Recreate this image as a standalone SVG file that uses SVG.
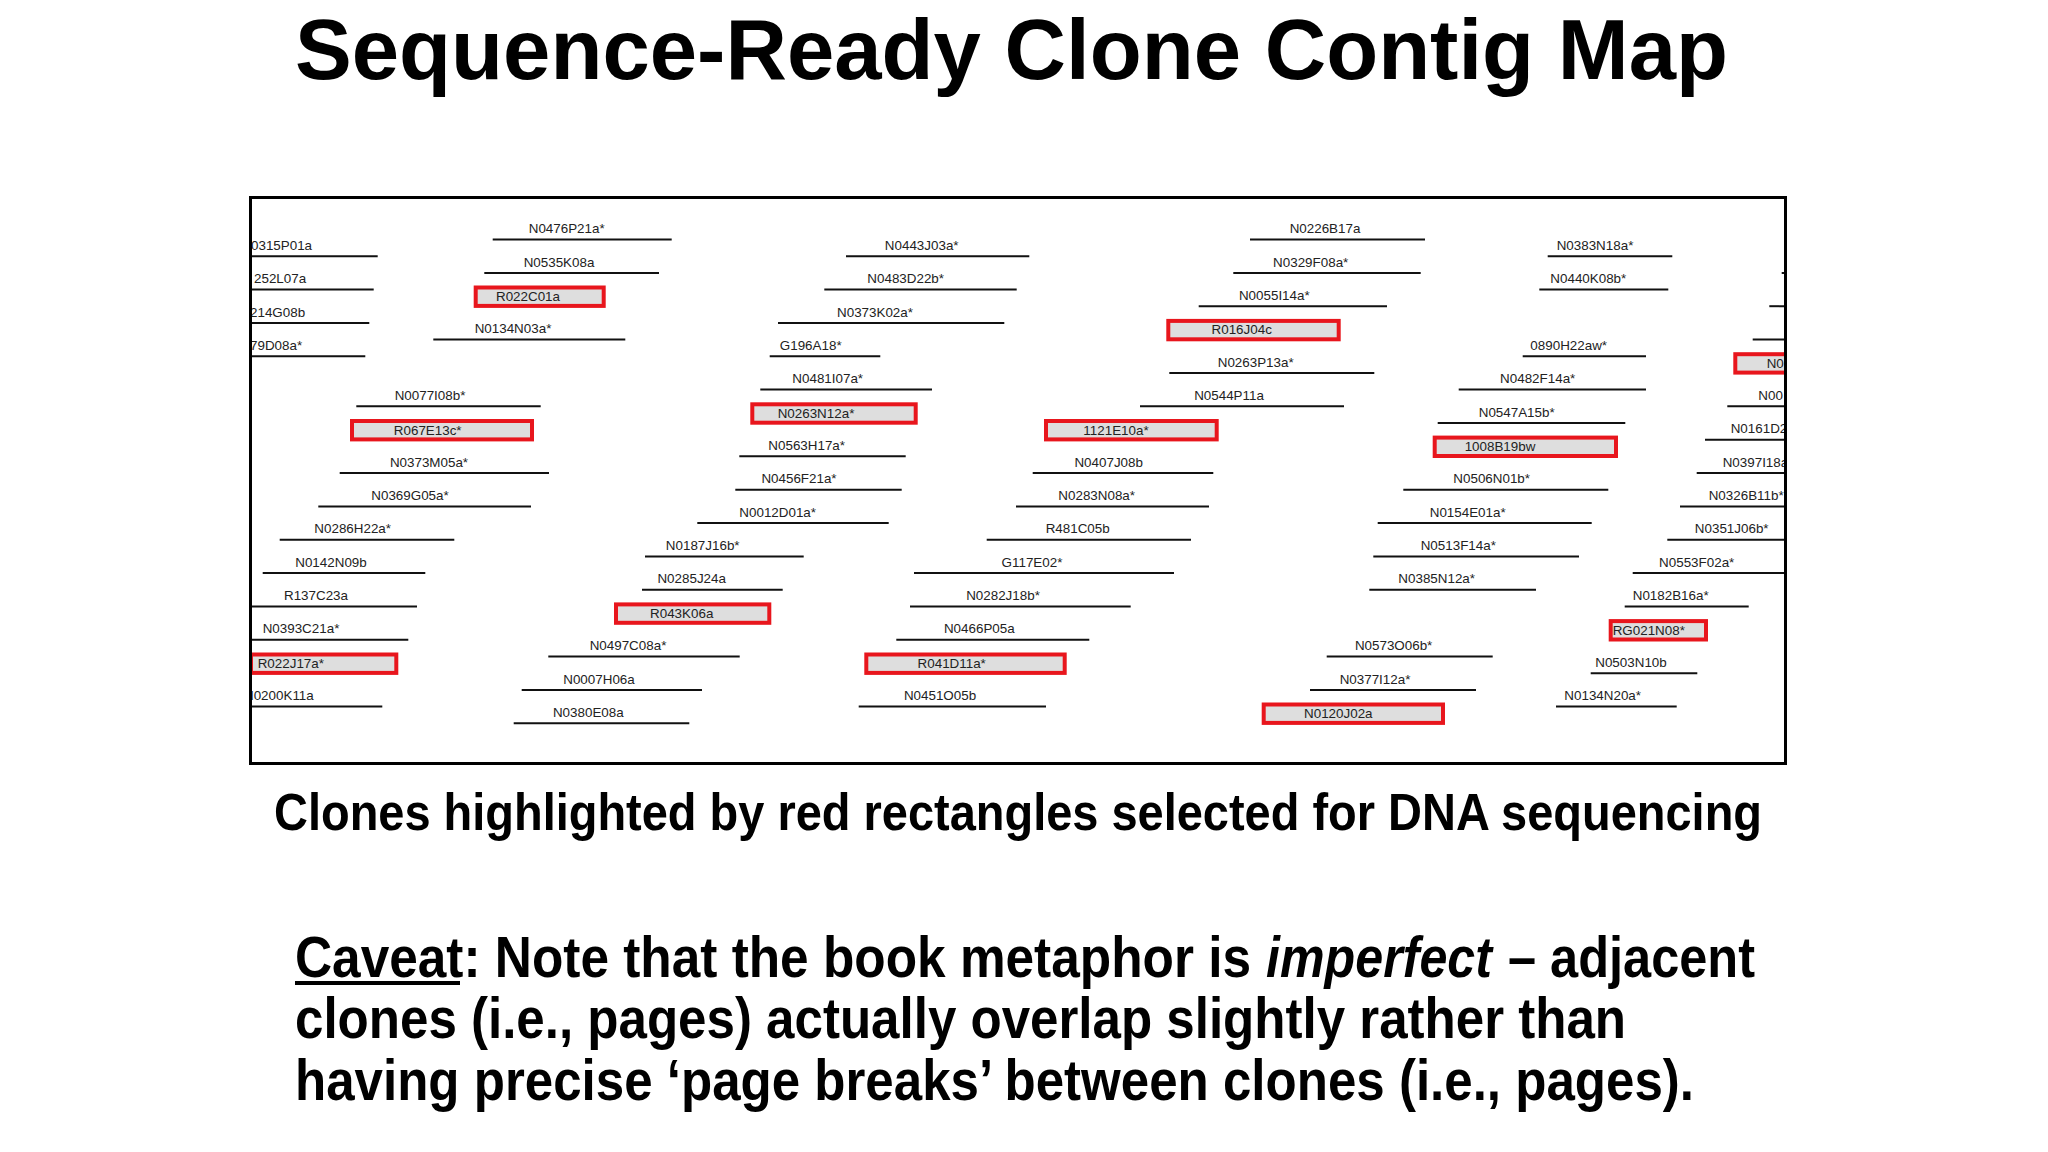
<svg xmlns="http://www.w3.org/2000/svg" width="2048" height="1152" viewBox="0 0 2048 1152">
<style>
.ln{stroke:#111;stroke-width:2}
.sel{fill:#dedede;stroke:#e8161d;stroke-width:4}
.lb{font-family:"Liberation Sans",Arial,sans-serif;font-size:13.4px;fill:#222;text-anchor:middle}
.st{text-anchor:start}
.big{font-family:"Liberation Sans",Arial,sans-serif;font-weight:bold;fill:#000}
</style>
<defs>
<clipPath id="mapclip"><rect x="250.5" y="197.5" width="1535" height="566"/></clipPath>
</defs>
<rect width="2048" height="1152" fill="#fff"/>
<g id="title"><text class="big" x="295" y="79" font-size="86" textLength="1433" lengthAdjust="spacingAndGlyphs">Sequence-Ready Clone Contig Map</text></g>

<g id="map" clip-path="url(#mapclip)">
<g id="c-0315P01a"><line class="ln" x1="249" y1="256.2" x2="377.7" y2="256.2"/><text class="lb st" x="251" y="249.8">0315P01a</text></g>
<g id="c-252L07a"><line class="ln" x1="249" y1="289.5" x2="373.7" y2="289.5"/><text class="lb st" x="254" y="283.1">252L07a</text></g>
<g id="c-214G08b"><line class="ln" x1="249" y1="322.9" x2="369.3" y2="322.9"/><text class="lb st" x="250" y="316.5">214G08b</text></g>
<g id="c-79D08a"><line class="ln" x1="249" y1="356.3" x2="365.3" y2="356.3"/><text class="lb st" x="250" y="349.9">79D08a*</text></g>

<g id="c-N0476P21a"><line class="ln" x1="492.7" y1="239.5" x2="671.7" y2="239.5"/><text class="lb" x="566.7" y="233.1">N0476P21a*</text></g>
<g id="c-N0535K08a"><line class="ln" x1="484.3" y1="272.9" x2="659" y2="272.9"/><text class="lb" x="559" y="266.5">N0535K08a</text></g>
<g id="c-R022C01a"><rect class="sel" x="475.7" y="287.5" width="128" height="18.4"/><text class="lb" x="528" y="301">R022C01a</text></g>
<g id="c-N0134N03a"><line class="ln" x1="433.3" y1="339.6" x2="625.3" y2="339.6"/><text class="lb" x="513" y="333.2">N0134N03a*</text></g>

<g id="c-N0077I08b"><line class="ln" x1="356.3" y1="406.3" x2="540.7" y2="406.3"/><text class="lb" x="430" y="399.9">N0077I08b*</text></g>
<g id="c-R067E13c"><rect class="sel" x="352" y="421" width="180" height="18.4"/><text class="lb" x="427.7" y="434.5">R067E13c*</text></g>
<g id="c-N0373M05a"><line class="ln" x1="339.7" y1="473" x2="549" y2="473"/><text class="lb" x="429" y="466.6">N0373M05a*</text></g>
<g id="c-N0369G05a"><line class="ln" x1="318.3" y1="506.4" x2="531" y2="506.4"/><text class="lb" x="410" y="500">N0369G05a*</text></g>
<g id="c-N0286H22a"><line class="ln" x1="279.7" y1="539.7" x2="454.3" y2="539.7"/><text class="lb" x="352.7" y="533.3">N0286H22a*</text></g>
<g id="c-N0142N09b"><line class="ln" x1="262.7" y1="573.1" x2="425.3" y2="573.1"/><text class="lb" x="331" y="566.7">N0142N09b</text></g>
<g id="c-R137C23a"><line class="ln" x1="249" y1="606.5" x2="417" y2="606.5"/><text class="lb" x="316" y="600.1">R137C23a</text></g>
<g id="c-N0393C21a"><line class="ln" x1="249" y1="639.8" x2="408.3" y2="639.8"/><text class="lb" x="301" y="633.4">N0393C21a*</text></g>
<g id="c-R022J17a"><rect class="sel" x="251" y="654.5" width="145.3" height="18.4"/><text class="lb st" x="257.7" y="668">R022J17a*</text></g>
<g id="c-N0200K11a"><line class="ln" x1="249" y1="706.5" x2="382.3" y2="706.5"/><text class="lb st" x="244" y="700.1">N0200K11a</text></g>

<g id="c-N0187J16b"><line class="ln" x1="645" y1="556.4" x2="803.7" y2="556.4"/><text class="lb" x="702.7" y="550">N0187J16b*</text></g>
<g id="c-N0285J24a"><line class="ln" x1="642" y1="589.8" x2="782.7" y2="589.8"/><text class="lb" x="691.7" y="583.4">N0285J24a</text></g>
<g id="c-R043K06a"><rect class="sel" x="616" y="604.4" width="153.3" height="18.4"/><text class="lb" x="681.7" y="617.9">R043K06a</text></g>
<g id="c-N0497C08a"><line class="ln" x1="548.3" y1="656.5" x2="739.7" y2="656.5"/><text class="lb" x="628" y="650.1">N0497C08a*</text></g>
<g id="c-N0007H06a"><line class="ln" x1="521.7" y1="689.9" x2="702" y2="689.9"/><text class="lb" x="599" y="683.5">N0007H06a</text></g>
<g id="c-N0380E08a"><line class="ln" x1="513.7" y1="723.2" x2="689.3" y2="723.2"/><text class="lb" x="588.3" y="716.8">N0380E08a</text></g>

<g id="c-N0443J03a"><line class="ln" x1="846" y1="256.2" x2="1029.3" y2="256.2"/><text class="lb" x="921.7" y="249.8">N0443J03a*</text></g>
<g id="c-N0483D22b"><line class="ln" x1="824.3" y1="289.5" x2="1016.7" y2="289.5"/><text class="lb" x="905.7" y="283.1">N0483D22b*</text></g>
<g id="c-N0373K02a"><line class="ln" x1="778" y1="322.9" x2="1004.3" y2="322.9"/><text class="lb" x="875" y="316.5">N0373K02a*</text></g>
<g id="c-G196A18"><line class="ln" x1="769.7" y1="356.3" x2="880.3" y2="356.3"/><text class="lb" x="810.7" y="349.9">G196A18*</text></g>
<g id="c-N0481I07a"><line class="ln" x1="760.3" y1="389.6" x2="932" y2="389.6"/><text class="lb" x="827.7" y="383.2">N0481I07a*</text></g>
<g id="c-N0263N12a"><rect class="sel" x="752.3" y="404.3" width="163.4" height="18.4"/><text class="lb" x="816" y="417.8">N0263N12a*</text></g>
<g id="c-N0563H17a"><line class="ln" x1="739.3" y1="456.3" x2="905.7" y2="456.3"/><text class="lb" x="806.7" y="449.9">N0563H17a*</text></g>
<g id="c-N0456F21a"><line class="ln" x1="735.3" y1="489.7" x2="901.7" y2="489.7"/><text class="lb" x="799" y="483.3">N0456F21a*</text></g>
<g id="c-N0012D01a"><line class="ln" x1="697.3" y1="523.1" x2="888.7" y2="523.1"/><text class="lb" x="777.7" y="516.7">N0012D01a*</text></g>

<g id="c-1121E10a"><rect class="sel" x="1046" y="421" width="170.7" height="18.4"/><text class="lb" x="1116" y="434.5">1121E10a*</text></g>
<g id="c-N0407J08b"><line class="ln" x1="1032.7" y1="473" x2="1213.3" y2="473"/><text class="lb" x="1108.7" y="466.6">N0407J08b</text></g>
<g id="c-N0283N08a"><line class="ln" x1="1016" y1="506.4" x2="1209" y2="506.4"/><text class="lb" x="1096.7" y="500">N0283N08a*</text></g>
<g id="c-R481C05b"><line class="ln" x1="986.7" y1="539.7" x2="1191" y2="539.7"/><text class="lb" x="1077.7" y="533.3">R481C05b</text></g>
<g id="c-G117E02"><line class="ln" x1="914" y1="573.1" x2="1174" y2="573.1"/><text class="lb" x="1032" y="566.7">G117E02*</text></g>
<g id="c-N0282J18b"><line class="ln" x1="910" y1="606.5" x2="1130.7" y2="606.5"/><text class="lb" x="1003" y="600.1">N0282J18b*</text></g>
<g id="c-N0466P05a"><line class="ln" x1="896.3" y1="639.8" x2="1089.3" y2="639.8"/><text class="lb" x="979.3" y="633.4">N0466P05a</text></g>
<g id="c-R041D11a"><rect class="sel" x="866.3" y="654.5" width="198.4" height="18.4"/><text class="lb" x="951.7" y="668">R041D11a*</text></g>
<g id="c-N0451O05b"><line class="ln" x1="858.7" y1="706.5" x2="1046" y2="706.5"/><text class="lb" x="940" y="700.1">N0451O05b</text></g>

<g id="c-N0226B17a"><line class="ln" x1="1250" y1="239.5" x2="1425" y2="239.5"/><text class="lb" x="1325" y="233.1">N0226B17a</text></g>
<g id="c-N0329F08a"><line class="ln" x1="1233.3" y1="272.9" x2="1420.7" y2="272.9"/><text class="lb" x="1310.7" y="266.5">N0329F08a*</text></g>
<g id="c-N0055I14a"><line class="ln" x1="1198.7" y1="306.2" x2="1387" y2="306.2"/><text class="lb" x="1274.3" y="299.8">N0055I14a*</text></g>
<g id="c-R016J04c"><rect class="sel" x="1168.3" y="320.9" width="170.4" height="18.4"/><text class="lb" x="1241.7" y="334.4">R016J04c</text></g>
<g id="c-N0263P13a"><line class="ln" x1="1169.3" y1="372.9" x2="1374.3" y2="372.9"/><text class="lb" x="1255.7" y="366.5">N0263P13a*</text></g>
<g id="c-N0544P11a"><line class="ln" x1="1140" y1="406.3" x2="1344" y2="406.3"/><text class="lb" x="1229" y="399.9">N0544P11a</text></g>

<g id="c-N0383N18a"><line class="ln" x1="1547.7" y1="256.2" x2="1672.3" y2="256.2"/><text class="lb" x="1595" y="249.8">N0383N18a*</text></g>
<g id="c-N0440K08b"><line class="ln" x1="1539.3" y1="289.5" x2="1668.3" y2="289.5"/><text class="lb" x="1588.3" y="283.1">N0440K08b*</text></g>
<g id="c-0890H22aw"><line class="ln" x1="1522.7" y1="356.3" x2="1646" y2="356.3"/><text class="lb" x="1568.7" y="349.9">0890H22aw*</text></g>
<g id="c-N0482F14a"><line class="ln" x1="1458.7" y1="389.6" x2="1646" y2="389.6"/><text class="lb" x="1537.7" y="383.2">N0482F14a*</text></g>
<g id="c-N0547A15b"><line class="ln" x1="1437.7" y1="423" x2="1625.3" y2="423"/><text class="lb" x="1516.7" y="416.6">N0547A15b*</text></g>
<g id="c-1008B19bw"><rect class="sel" x="1434.7" y="437.6" width="181.3" height="18.4"/><text class="lb" x="1500" y="451.1">1008B19bw</text></g>
<g id="c-N0506N01b"><line class="ln" x1="1403.3" y1="489.7" x2="1608.3" y2="489.7"/><text class="lb" x="1491.7" y="483.3">N0506N01b*</text></g>
<g id="c-N0154E01a"><line class="ln" x1="1377.7" y1="523.1" x2="1591.7" y2="523.1"/><text class="lb" x="1467.7" y="516.7">N0154E01a*</text></g>
<g id="c-N0513F14a"><line class="ln" x1="1373.3" y1="556.4" x2="1579" y2="556.4"/><text class="lb" x="1458.3" y="550">N0513F14a*</text></g>
<g id="c-N0385N12a"><line class="ln" x1="1369.3" y1="589.8" x2="1536" y2="589.8"/><text class="lb" x="1436.7" y="583.4">N0385N12a*</text></g>

<g id="c-N0573O06b"><line class="ln" x1="1326.7" y1="656.5" x2="1492.7" y2="656.5"/><text class="lb" x="1393.6" y="650.1">N0573O06b*</text></g>
<g id="c-N0377I12a"><line class="ln" x1="1310" y1="689.9" x2="1476" y2="689.9"/><text class="lb" x="1375" y="683.5">N0377I12a*</text></g>
<g id="c-N0120J02a"><rect class="sel" x="1263.7" y="704.5" width="179.3" height="18.4"/><text class="lb" x="1338.3" y="718">N0120J02a</text></g>

<g id="c-r2"><line class="ln" x1="1781.7" y1="272.9" x2="1790" y2="272.9"/></g>
<g id="c-r4"><line class="ln" x1="1769.3" y1="306.2" x2="1790" y2="306.2"/></g>
<g id="c-r6"><line class="ln" x1="1752.7" y1="339.6" x2="1790" y2="339.6"/></g>
<g id="c-N0-box"><rect class="sel" x="1735.3" y="354.2" width="70" height="18.4"/><text class="lb st" x="1766.7" y="367.7">N0</text></g>
<g id="c-N00"><line class="ln" x1="1727.3" y1="406.3" x2="1790" y2="406.3"/><text class="lb st" x="1758.3" y="399.9">N00</text></g>
<g id="c-N0161D2"><line class="ln" x1="1705" y1="439.7" x2="1790" y2="439.7"/><text class="lb st" x="1730.7" y="433.3">N0161D2</text></g>
<g id="c-N0397I18a"><line class="ln" x1="1696.7" y1="473" x2="1790" y2="473"/><text class="lb st" x="1722.7" y="466.6">N0397I18a</text></g>
<g id="c-N0326B11b"><line class="ln" x1="1680" y1="506.4" x2="1790" y2="506.4"/><text class="lb st" x="1708.7" y="500">N0326B11b*</text></g>
<g id="c-N0351J06b"><line class="ln" x1="1667.3" y1="539.7" x2="1790" y2="539.7"/><text class="lb" x="1731.7" y="533.3">N0351J06b*</text></g>
<g id="c-N0553F02a"><line class="ln" x1="1632.7" y1="573.1" x2="1790" y2="573.1"/><text class="lb" x="1696.7" y="566.7">N0553F02a*</text></g>
<g id="c-N0182B16a"><line class="ln" x1="1624.7" y1="606.5" x2="1748.7" y2="606.5"/><text class="lb" x="1670.7" y="600.1">N0182B16a*</text></g>
<g id="c-RG021N08"><rect class="sel" x="1610.7" y="621.1" width="95.3" height="18.4"/><text class="lb st" x="1612.7" y="634.6">RG021N08*</text></g>
<g id="c-N0503N10b"><line class="ln" x1="1590.7" y1="673.2" x2="1697.3" y2="673.2"/><text class="lb" x="1631" y="666.8">N0503N10b</text></g>
<g id="c-N0134N20a"><line class="ln" x1="1556" y1="706.5" x2="1676.7" y2="706.5"/><text class="lb" x="1602.7" y="700.1">N0134N20a*</text></g>
</g>
<g id="frame"><rect x="250.5" y="197.5" width="1535" height="566" fill="none" stroke="#000" stroke-width="3"/></g>

<g id="caption"><text class="big" x="274" y="830" font-size="52" textLength="1488" lengthAdjust="spacingAndGlyphs">Clones highlighted by red rectangles selected for DNA sequencing</text></g>

<g id="caveat">
<text class="big" x="295" y="977" font-size="58" textLength="956" lengthAdjust="spacingAndGlyphs">Caveat: Note that the book metaphor is</text>
<text class="big" x="1266" y="977" font-size="58" font-style="italic" textLength="226" lengthAdjust="spacingAndGlyphs">imperfect</text>
<text class="big" x="1508" y="977" font-size="58" textLength="247" lengthAdjust="spacingAndGlyphs">– adjacent</text>
<line x1="295" y1="983" x2="460" y2="983" stroke="#000" stroke-width="4"/>
<text class="big" x="295" y="1038" font-size="58" textLength="1331" lengthAdjust="spacingAndGlyphs">clones (i.e., pages) actually overlap slightly rather than</text>
<text class="big" x="295" y="1100" font-size="58" textLength="1399" lengthAdjust="spacingAndGlyphs">having precise ‘page breaks’ between clones (i.e., pages).</text>
</g>
</svg>
